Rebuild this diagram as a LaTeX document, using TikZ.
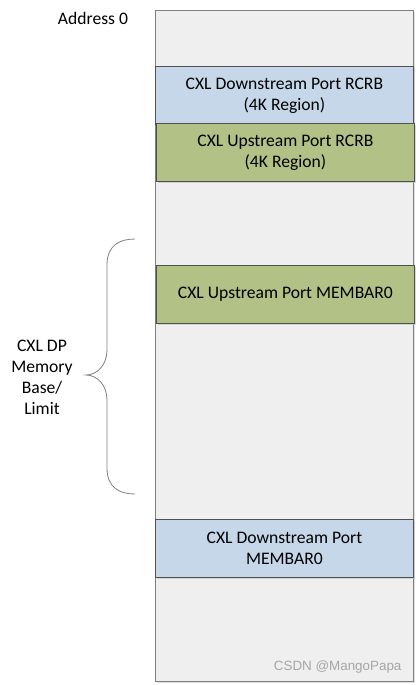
\documentclass[tikz,border=0pt]{standalone}
\usepackage{fontspec}
\setmainfont{Carlito}
\newfontfamily\wmfont{Liberation Sans}
\definecolor{bgfill}{HTML}{EFEFEF}
\definecolor{edge}{HTML}{7F7F7F}
\definecolor{bluefill}{HTML}{C5D7E9}
\definecolor{greenfill}{HTML}{B2C186}
\definecolor{dedge}{HTML}{505050}
\usetikzlibrary{shadows}
\tikzset{
  region/.style={draw=dedge, line width=0.8pt, minimum width=258pt, minimum height=58pt, inner sep=0pt, align=center, font=\fontsize{17.6}{21}\selectfont, anchor=north west,
    drop shadow={shadow xshift=2pt, shadow yshift=-2pt, fill=black!25, opacity=0.6}},
  lbl/.style={font=\fontsize{17.6}{21}\selectfont, align=center, inner sep=0pt}
}
\begin{document}
\begin{tikzpicture}[x=1pt,y=-1pt]
\useasboundingbox (0,0) rectangle (420,685);
\node[draw=edge, fill=bgfill, line width=0.8pt, minimum width=258pt, minimum height=671pt, anchor=north west, inner sep=0pt,
  drop shadow={shadow xshift=2pt, shadow yshift=-2pt, fill=black!20, opacity=0.6}] (mem) at (155,10) {};
\node[region, fill=bluefill] (dsrcrb) at (155,66) {CXL Downstream Port RCRB\\(4K Region)};
\node[region, fill=greenfill] (usrcrb) at (156,123) {CXL Upstream Port RCRB\\(4K Region)};
\node[region, fill=greenfill] (usmembar) at (156,265) {CXL Upstream Port MEMBAR0};
\node[region, fill=bluefill] (dsmembar) at (155,519) {CXL Downstream Port\\MEMBAR0};
\node[lbl] (addr) at (93,18) {Address 0};
\node[lbl] (dp) at (42,377) {CXL DP\\Memory\\Base/\\Limit};
\coordinate (btop) at (135,239);
\coordinate (bbot) at (135,494);
\coordinate (btip) at (86,375);
\draw[edge, line width=0.8pt] (btop) .. controls (120,239) and (107,245) .. (107,265)
  -- (107,350) .. controls (107,365) and (97,375) .. (btip)
  .. controls (97,375) and (107,385) .. (107,400)
  -- (107,468) .. controls (107,488) and (120,494) .. (bbot);
\node[text=black!35, font=\wmfont\fontsize{13.4}{15}\selectfont, anchor=east] (wm) at (405,667) {CSDN @MangoPapa};
\end{tikzpicture}
\end{document}
